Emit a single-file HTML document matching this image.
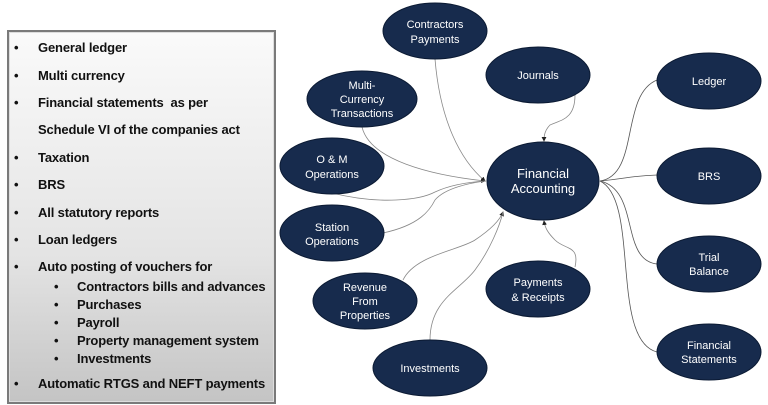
<!DOCTYPE html>
<html><head><meta charset="utf-8"><style>
body{margin:0;width:768px;height:405px;background:#fff;overflow:hidden;position:relative;font-family:"Liberation Sans",sans-serif}
.box{position:absolute;left:7px;top:30px;width:265px;height:370px;border:2px solid #7a7a7a;box-shadow:inset 0 0 0 1px #ddd;background:linear-gradient(#fafafa,#e4e4e4 60%,#c4c4c4);}
.t{position:absolute;font-weight:bold;font-size:13px;letter-spacing:-0.15px;color:#111;white-space:nowrap}
</style></head><body>
<div class="box"></div>
<div class="t" style="left:14px;top:40px">•</div><div class="t" style="left:38px;top:40px">General ledger</div>
<div class="t" style="left:14px;top:68px">•</div><div class="t" style="left:38px;top:68px">Multi currency</div>
<div class="t" style="left:14px;top:95px">•</div><div class="t" style="left:38px;top:95px">Financial statements &nbsp;as per</div>
<div class="t" style="left:38px;top:122px">Schedule VI of the companies act</div>
<div class="t" style="left:14px;top:150px">•</div><div class="t" style="left:38px;top:150px">Taxation</div>
<div class="t" style="left:14px;top:177px">•</div><div class="t" style="left:38px;top:177px">BRS</div>
<div class="t" style="left:14px;top:205px">•</div><div class="t" style="left:38px;top:205px">All statutory reports</div>
<div class="t" style="left:14px;top:232px">•</div><div class="t" style="left:38px;top:232px">Loan ledgers</div>
<div class="t" style="left:14px;top:259px">•</div><div class="t" style="left:38px;top:259px">Auto posting of vouchers for</div>
<div class="t" style="left:54px;top:279px">•</div><div class="t" style="left:77px;top:279px">Contractors bills and advances</div>
<div class="t" style="left:54px;top:297px">•</div><div class="t" style="left:77px;top:297px">Purchases</div>
<div class="t" style="left:54px;top:315px">•</div><div class="t" style="left:77px;top:315px">Payroll</div>
<div class="t" style="left:54px;top:333px">•</div><div class="t" style="left:77px;top:333px">Property management system</div>
<div class="t" style="left:54px;top:351px">•</div><div class="t" style="left:77px;top:351px">Investments</div>
<div class="t" style="left:14px;top:376px">•</div><div class="t" style="left:38px;top:376px">Automatic RTGS and NEFT payments</div>
<svg width="768" height="405" style="position:absolute;left:0;top:0" font-family="Liberation Sans, sans-serif" font-size="11" fill="#fff">
<defs><marker id="a" markerWidth="6" markerHeight="6" refX="5" refY="3" orient="auto"><path d="M0,0L6,3L0,6z" fill="#222"/></marker></defs>
<g fill="none" stroke="#888" stroke-width="0.8">
<path d="M435,59 C440,120 460,160 485,181" marker-end="url(#a)"/>
<path d="M362,127 C370,160 430,175 485,181" marker-end="url(#a)"/>
<path d="M332,193 C380,205 420,200 435,192 C450,185 470,182 485,181"/>
<path d="M383,233 C420,225 430,210 435,200 C445,188 470,183 485,181"/>
<path d="M403,280 C415,255 460,250 475,240 C490,230 500,220 503,212" marker-end="url(#a)"/>
<path d="M430,340 C430,300 460,290 475,270 C490,250 500,225 503,212"/>
<path d="M575,267 C580,245 565,250 555,240 C548,233 545,228 544,221" marker-end="url(#a)"/>
<path d="M575,95 C575,120 560,120 550,125 C545,130 544,135 544,141" marker-end="url(#a)"/>
<g stroke="#555">
<path d="M600,181 C640,175 620,95 657,80"/>
<path d="M600,181 C630,178 630,176 657,175"/>
<path d="M600,181 C640,190 620,260 657,264"/>
<path d="M600,181 C640,200 610,340 657,352"/>
</g></g>
<g fill="#172b4d" stroke="#0b1a33">
<ellipse cx="435" cy="31" rx="52" ry="28"/>
<ellipse cx="538" cy="75" rx="52" ry="28"/>
<ellipse cx="362" cy="99" rx="55" ry="28"/>
<ellipse cx="332" cy="166" rx="52" ry="28"/>
<ellipse cx="332" cy="233" rx="52" ry="28"/>
<ellipse cx="365" cy="301" rx="52" ry="28"/>
<ellipse cx="430" cy="368" rx="57" ry="28"/>
<ellipse cx="538" cy="289" rx="52" ry="28"/>
<ellipse cx="543" cy="181" rx="56" ry="39"/>
<ellipse cx="709" cy="81" rx="52" ry="28"/>
<ellipse cx="709" cy="176" rx="52" ry="28"/>
<ellipse cx="709" cy="264" rx="52" ry="28"/>
<ellipse cx="709" cy="352" rx="52" ry="28"/>
</g>
<g text-anchor="middle">
<text x="435" y="28">Contractors</text><text x="435" y="43">Payments</text>
<text x="538" y="79">Journals</text>
<text x="362" y="89">Multi-</text><text x="362" y="103">Currency</text><text x="362" y="117">Transactions</text>
<text x="332" y="163">O &amp; M</text><text x="332" y="178">Operations</text>
<text x="332" y="231">Station</text><text x="332" y="245">Operations</text>
<text x="365" y="291">Revenue</text><text x="365" y="305">From</text><text x="365" y="319">Properties</text>
<text x="430" y="372">Investments</text>
<text x="538" y="286">Payments</text><text x="538" y="301">&amp; Receipts</text>
<text x="543" y="178" font-size="13">Financial</text><text x="543" y="193" font-size="13">Accounting</text>
<text x="709" y="85">Ledger</text>
<text x="709" y="180">BRS</text>
<text x="709" y="261">Trial</text><text x="709" y="275">Balance</text>
<text x="709" y="349">Financial</text><text x="709" y="363">Statements</text>
</g>
</svg>
</body></html>
